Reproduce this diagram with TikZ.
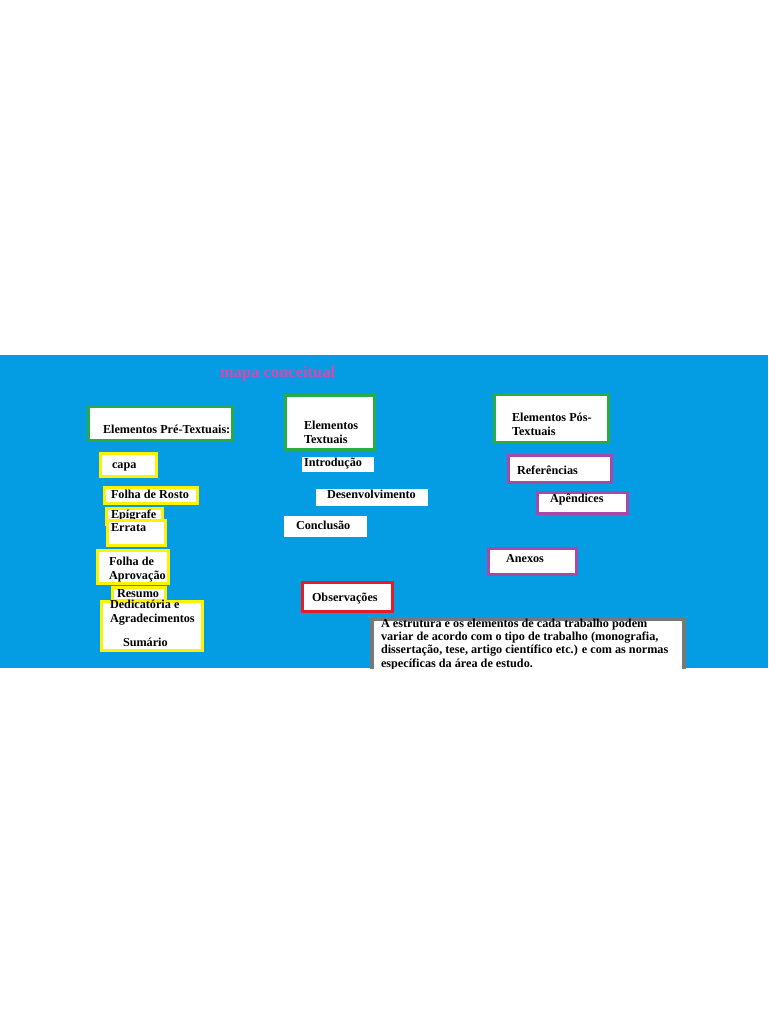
\documentclass[tikz,border=0pt]{standalone}
\usepackage{fontspec}
\setmainfont{Liberation Serif}
\definecolor{bandblue}{RGB}{4,157,227}
\definecolor{boxgreen}{RGB}{40,172,72}
\definecolor{boxyellow}{RGB}{255,242,0}
\definecolor{boxpurple}{RGB}{168,72,168}
\definecolor{boxred}{RGB}{232,28,36}
\definecolor{boxgray}{RGB}{120,120,120}
\definecolor{titlepink}{RGB}{214,72,178}
\tikzset{
  box/.style={rectangle, fill=white, anchor=north west, inner sep=0pt, outer sep=0pt},
  gbox/.style={box, draw=boxgreen, line width=2.6pt},
  ybox/.style={box, draw=boxyellow, line width=2.6pt},
  pbox/.style={box, draw=boxpurple, line width=2.6pt},
  rbox/.style={box, draw=boxred, line width=2.6pt},
  wbox/.style={box},
  notebox/.style={box, draw=boxgray, line width=3.5pt},
  lbl/.style={anchor=base west, inner sep=0pt, outer sep=0pt, align=left,
    font=\bfseries\fontsize{12.2}{13.5}\selectfont, text=black},
}
\begin{document}
\begin{tikzpicture}[x=1pt,y=-1pt]
\useasboundingbox (0,0) rectangle (768,1024);
\fill[white] (0,0) rectangle (768,1024);
\fill[bandblue] (0,355) rectangle (768,668);

\node[anchor=base west, inner sep=0pt, text=titlepink, font=\bfseries\fontsize{16.5}{18}\selectfont] (title) at (220,377) {mapa conceitual};

% Pre-textuais
\node[gbox, minimum width=144pt, minimum height=34pt] (preBox) at (88.5,406.5) {};
\node[lbl] (preTxt) at (103,433) {Elementos Pré-Textuais:};

\node[ybox, minimum width=56pt, minimum height=23pt] (capaBox) at (100.5,453.5) {};
\node[lbl] (capaTxt) at (112,468) {capa};

\node[ybox, minimum width=93pt, minimum height=16pt] (rostoBox) at (104.5,487.5) {};
\node[lbl] (rostoTxt) at (111,498) {Folha de Rosto};

\node[ybox, minimum width=56pt, minimum height=16pt] (epiBox) at (106.5,508.5) {};
\node[lbl] (epiTxt) at (111,518) {Epígrafe};

\node[ybox, minimum width=58pt, minimum height=25pt] (errBox) at (107.5,520.5) {};
\node[lbl] (errTxt) at (111,531) {Errata};

\node[ybox, minimum width=71pt, minimum height=33pt] (aprovBox) at (97.5,550.5) {};
\node[lbl] (aprovTxt) at (109,579) {Folha de\\Aprovação};

\node[ybox, minimum width=53pt, minimum height=13pt] (resBox) at (112.5,587.5) {};
\node[lbl] (resTxt) at (117,597) {Resumo};

\node[ybox, minimum width=101pt, minimum height=49pt] (dedBox) at (101.5,601.5) {};
\node[lbl] (dedTxt) at (110,622) {Dedicatória e\\Agradecimentos};
\node[lbl] (sumTxt) at (123,646) {Sumário};

% Textuais
\node[gbox, minimum width=89pt, minimum height=54pt] (txtBox) at (285.5,395.5) {};
\node[lbl] (txtTxt) at (304,443) {Elementos\\Textuais};

\node[wbox, minimum width=72pt, minimum height=15pt] (introBox) at (302,457) {};
\node[lbl] (introTxt) at (304,466) {Introdução};

\node[wbox, minimum width=112pt, minimum height=17pt] (desBox) at (316,489) {};
\node[lbl] (desTxt) at (327,498) {Desenvolvimento};

\node[wbox, minimum width=83pt, minimum height=21pt] (concBox) at (284,516) {};
\node[lbl] (concTxt) at (296,529) {Conclusão};

% Pos-textuais
\node[gbox, minimum width=114pt, minimum height=48pt] (posBox) at (494.5,394.5) {};
\node[lbl] (posTxt) at (512,435) {Elementos Pós-\\Textuais};

\node[pbox, minimum width=103pt, minimum height=27pt] (refBox) at (508.5,455.5) {};
\node[lbl] (refTxt) at (517,474) {Referências};

\node[pbox, minimum width=90pt, minimum height=21pt] (apBox) at (537.5,492.5) {};
\node[lbl] (apTxt) at (550,502) {Apêndices};

\node[pbox, minimum width=88pt, minimum height=26pt] (anBox) at (488.5,548.5) {};
\node[lbl] (anTxt) at (506,562) {Anexos};

% Observacoes
\node[rbox, minimum width=90pt, minimum height=29pt] (obsBox) at (302.5,582.5) {};
\node[lbl] (obsTxt) at (312,601) {Observações};

\begin{scope}
\clip (0,355) rectangle (768,668);
\node[notebox, minimum width=312pt, minimum height=70pt] (noteBox) at (372,619) {};
\node[lbl, font=\bfseries\fontsize{12.2}{13.3}\selectfont] (noteTxt) at (381,667) {A estrutura e os elementos de cada trabalho podem\\variar de acordo com o tipo de trabalho (monografia,\\dissertação, tese, artigo científico etc.) e com as normas\\específicas da área de estudo.};
\end{scope}
\end{tikzpicture}
\end{document}
